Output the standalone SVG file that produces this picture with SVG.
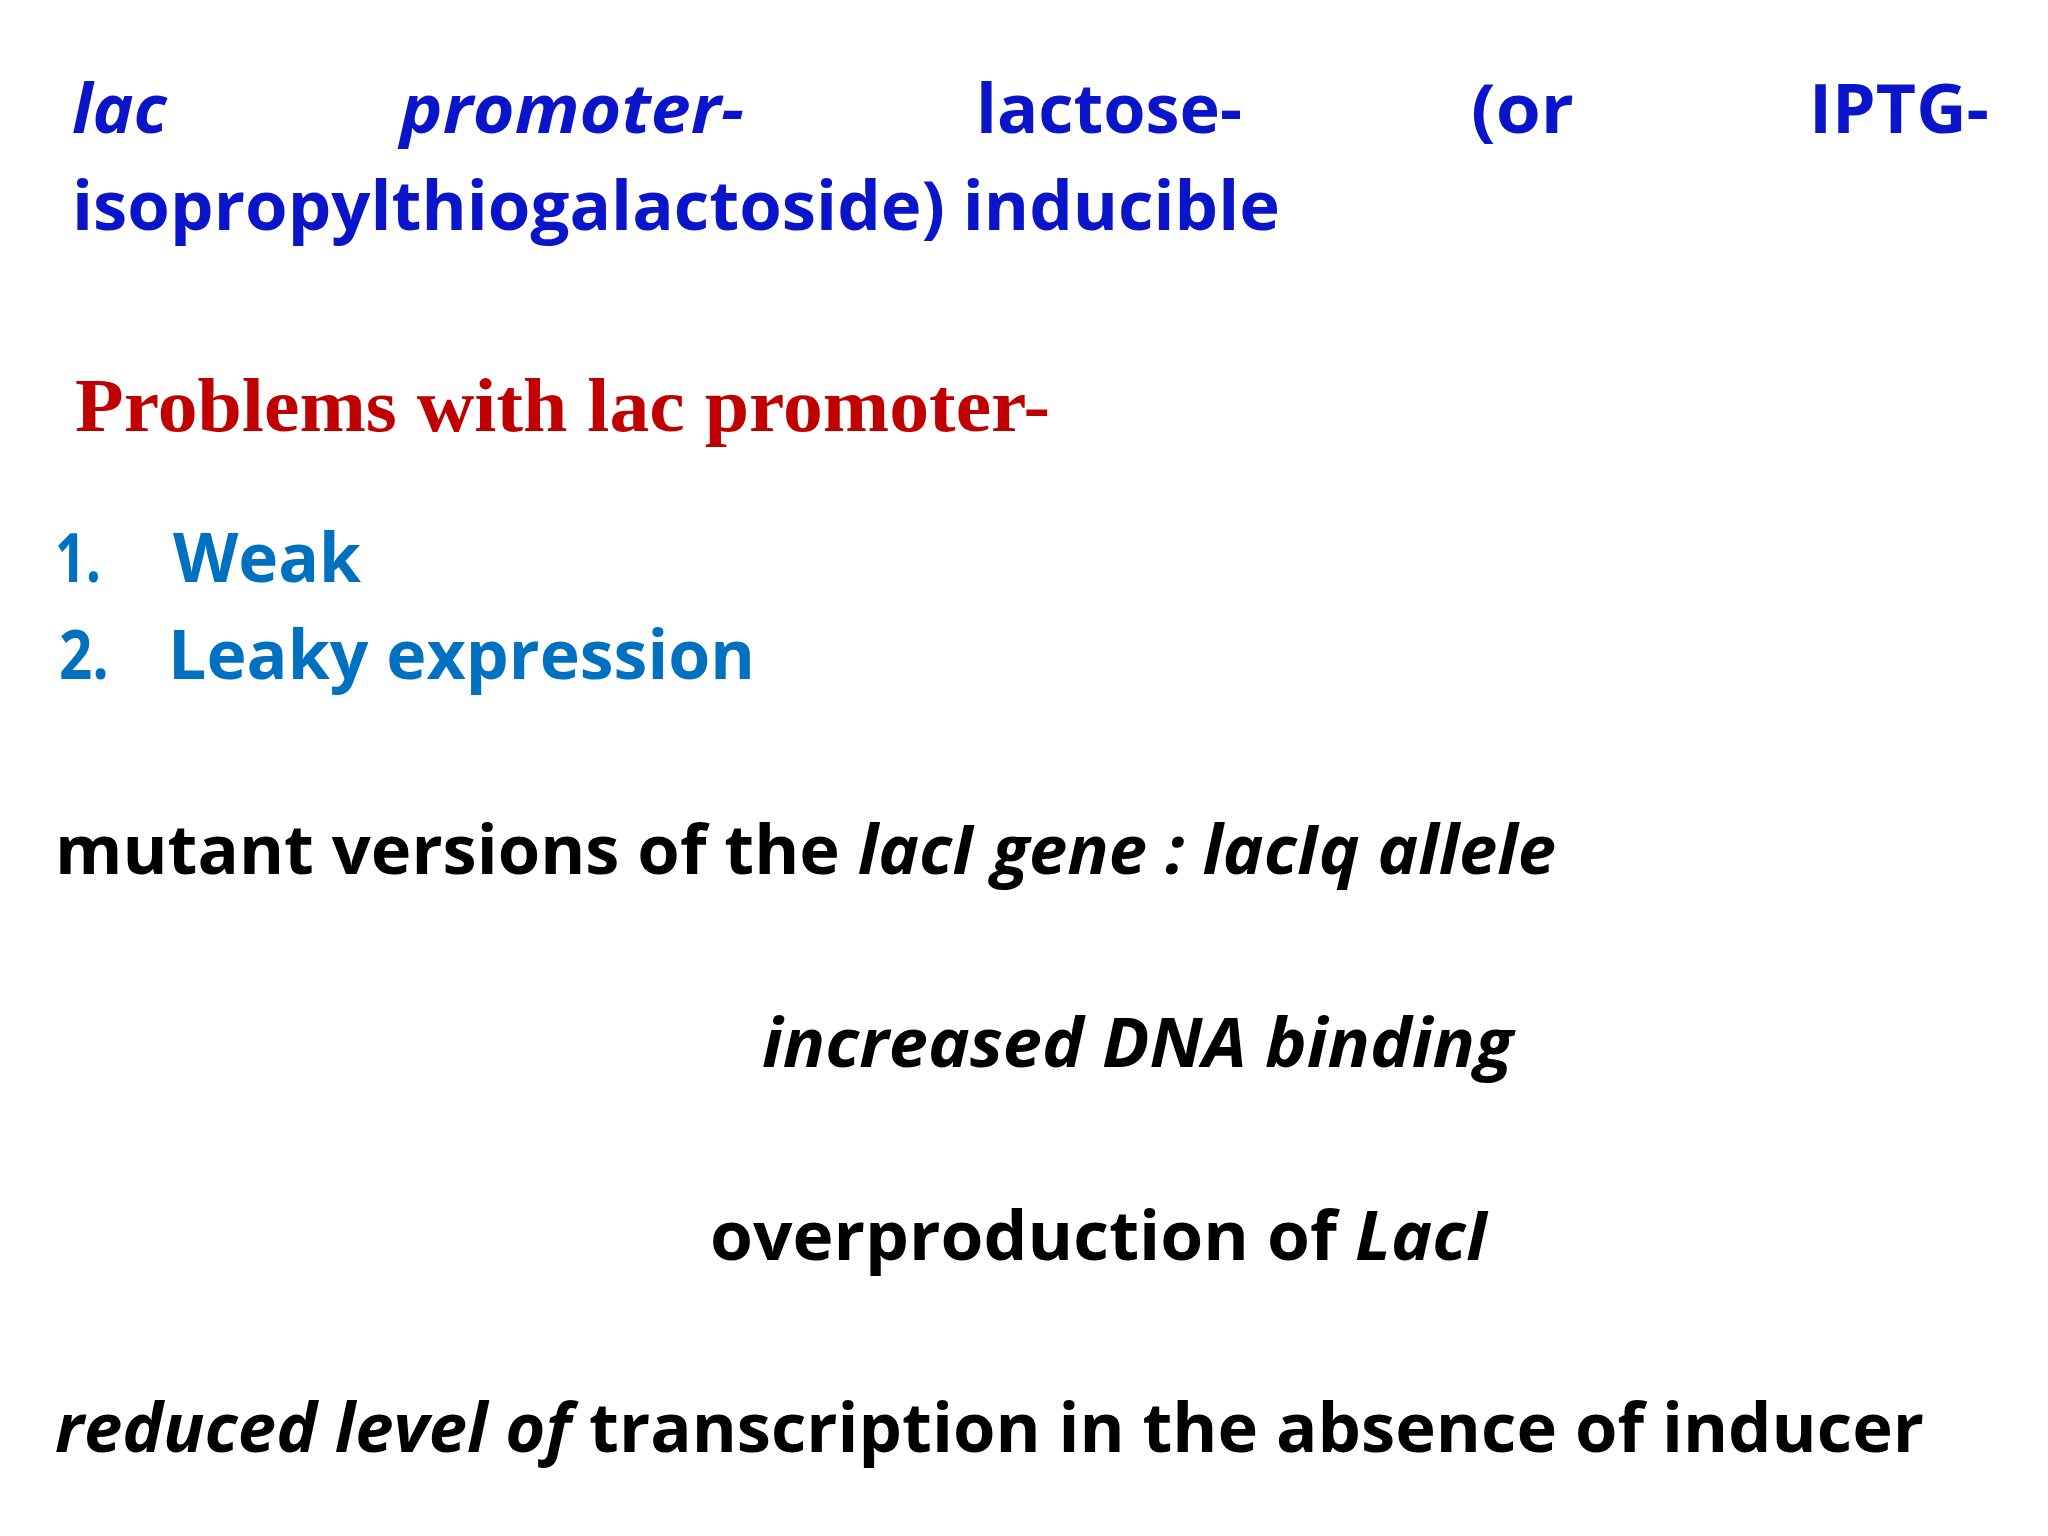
<svg xmlns="http://www.w3.org/2000/svg" width="2048" height="1536" viewBox="0 0 2048 1536">
<style>
.s{font-family:"Open Sans","Noto Sans",sans-serif;font-weight:bold;font-size:68px}
.b{fill:#0A14C8}.lb{fill:#0070C0}.k{fill:#000}
.r{font-family:"Liberation Serif",serif;font-weight:bold;font-size:76px;fill:#C00000}
.i{font-style:italic}
</style>
<rect width="2048" height="1536" fill="#fff"/>
<g id="title">
<text class="s b i" x="72" y="133" textLength="95" lengthAdjust="spacingAndGlyphs">lac</text>
<text class="s b i" x="400" y="133" textLength="344" lengthAdjust="spacingAndGlyphs">promoter-</text>
<text class="s b" x="976" y="133" textLength="266" lengthAdjust="spacingAndGlyphs">lactose-</text>
<text class="s b" x="1471" y="133" textLength="103" lengthAdjust="spacingAndGlyphs">(or</text>
<text class="s b" x="1809" y="133" textLength="180" lengthAdjust="spacingAndGlyphs">IPTG-</text>
<text class="s b" x="72" y="230" textLength="1208" lengthAdjust="spacingAndGlyphs">isopropylthiogalactoside) inducible</text>
</g>
<g id="problems">
<text class="r" x="75" y="431" textLength="975" lengthAdjust="spacingAndGlyphs">Problems with lac promoter-</text>
</g>
<g id="list">
<text class="s lb" x="55" y="582" font-size="50" textLength="46" lengthAdjust="spacingAndGlyphs">1.</text>
<text class="s lb" x="173" y="582" textLength="188" lengthAdjust="spacingAndGlyphs">Weak</text>
<text class="s lb" x="59" y="679" font-size="50" textLength="50" lengthAdjust="spacingAndGlyphs">2.</text>
<text class="s lb" x="168" y="679" textLength="587" lengthAdjust="spacingAndGlyphs">Leaky expression</text>
</g>
<g id="mutant">
<text class="s k" x="55" y="874" textLength="1501" lengthAdjust="spacingAndGlyphs">mutant versions of the <tspan class="i">lacI gene : lacIq allele</tspan></text>
</g>
<g id="binding">
<text class="s k i" x="762" y="1067" textLength="751" lengthAdjust="spacingAndGlyphs">increased DNA binding</text>
</g>
<g id="overproduction">
<text class="s k" x="710" y="1260" textLength="778" lengthAdjust="spacingAndGlyphs">overproduction of <tspan class="i">LacI</tspan></text>
</g>
<g id="reduced">
<text class="s k" x="55" y="1452" textLength="1869" lengthAdjust="spacingAndGlyphs"><tspan class="i">reduced level of</tspan> transcription in the absence of inducer</text>
</g>
<g id="connectors"/>
</svg>
